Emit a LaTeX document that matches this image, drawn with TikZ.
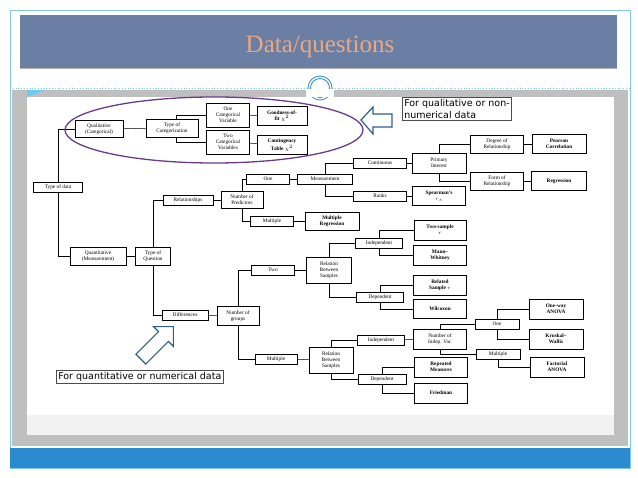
\documentclass[tikz,border=0pt]{standalone}
\usepackage{fontspec}
\setmainfont{Liberation Serif}
\newfontfamily\notefont{DejaVu Sans}
\usetikzlibrary{arrows.meta}
\definecolor{titlebg}{HTML}{6A7FA3}
\definecolor{titlefg}{HTML}{EBA882}
\definecolor{framec}{HTML}{7FC8E8}
\definecolor{bandc}{HTML}{2A8BD0}
\definecolor{ellc}{HTML}{6A3A8E}
\definecolor{arrc}{HTML}{2E5F8A}
\tikzset{
 bx/.style={draw, fill=white, line width=0.5pt, inner sep=0.3pt, align=center,
   font=\fontsize{5.3}{6.2}\selectfont, minimum height=10pt},
 bb/.style={bx, font=\fontsize{5.3}{6.2}\selectfont\bfseries},
 note/.style={draw=black!70, fill=white, line width=0.6pt, align=left, inner sep=2pt,
   font=\notefont\fontsize{9.5}{11.5}\selectfont, anchor=north west},
 ln/.style={line width=0.5pt},
 hollow/.style={draw=arrc, fill=white, line width=1.2pt, line join=miter}
}
\begin{document}
\begin{tikzpicture}[x=1pt,y=-1pt]
\useasboundingbox (0,0) rectangle (638,478);
\fill[white] (0,0) rectangle (638,478);
% frame and decoration
\draw[framec, line width=0.6pt] (10,10) rectangle (630,468);
\fill[bandc] (10,448) rectangle (630,468);
\fill[black!25] (12,90) rectangle (628,446);
\fill[white] (27,97) rectangle (614,435);
\fill[black!5] (27,415) rectangle (614,435);
\fill[cyan!60] (27,90) -- (45,90) -- (27,97) -- cycle;
\fill[titlebg] (20,15) rectangle (617,68);
\draw[black!30] (20,68) -- (617,68);
\node[font=\fontsize{25}{27}\selectfont, text=titlefg] (title) at (320,47) {Data/questions};
\draw[framec, dotted, line width=0.8pt] (10,88) -- (630,88);
\fill[white] (320,88) circle (12);
\draw[bandc, line width=0.8pt] (320,88) circle (12);
\draw[bandc, line width=0.8pt] (320,88) circle (9.5);
\fill[white] (306,89) rectangle (334,97);
% nodes
\node[bx, minimum width=49pt] (td) at (58,187) {Type of data};
\node[bx, minimum width=48pt, minimum height=17pt] (qual) at (99,129) {Qualitative\\(Categorical)};
\node[bx, minimum width=52pt, minimum height=18pt] (toc) at (172,128) {Type of\\Categorization};
\node[bx, minimum width=43pt, minimum height=24pt] (ocv) at (228,115) {One\\Categorical\\Variable};
\node[bx, minimum width=43pt, minimum height=24pt] (tcv) at (228,142) {Two\\Categorical\\Variables};
\node[bb, minimum width=50pt, minimum height=19pt] (gof) at (282,116) {Goodness-of-\\fit $\chi^2$};
\node[bb, minimum width=50pt, minimum height=19pt] (ct) at (282,145) {Contingency\\Table $\chi^2$};
\node[bx, minimum width=56pt, minimum height=18pt] (quan) at (98,256) {Quantitative\\(Measurement)};
\node[bx, minimum width=35pt, minimum height=18pt] (toq) at (153,256) {Type of\\Question};
\node[bx, minimum width=50pt] (rel) at (188,200) {Relationships};
\node[bx, minimum width=42pt, minimum height=17pt] (nop) at (242,200) {Number of\\Predictors};
\node[bx, minimum width=43pt] (one1) at (268,179) {One};
\node[bx, minimum width=55pt] (meas) at (325,179) {Measurement};
\node[bx, minimum width=43pt] (mult1) at (272,221) {Multiple};
\node[bb, minimum width=54pt, minimum height=18pt] (mreg) at (332,221) {Multiple\\Regression};
\node[bx, minimum width=53pt] (cont) at (380,163) {Continuous};
\node[bx, minimum width=53pt] (ranks) at (380,196) {Ranks};
\node[bx, minimum width=54pt, minimum height=20pt] (pi) at (439,163) {Primary\\Interest};
\node[bb, minimum width=53pt, minimum height=19pt] (sp) at (439,196) {Spearman's\\$r_s$};
\node[bx, minimum width=53pt, minimum height=18pt] (dor) at (497,144) {Degree of\\Relationship};
\node[bx, minimum width=53pt, minimum height=18pt] (forr) at (497,181) {Form of\\Relationship};
\node[bb, minimum width=54pt, minimum height=19pt] (pc) at (559,144) {Pearson\\Correlation};
\node[bb, minimum width=55pt, minimum height=19pt] (reg) at (559,181) {Regression};
\node[bx, minimum width=46pt] (diff) at (185,315) {Differences};
\node[bx, minimum width=42pt, minimum height=19pt] (nog) at (238,316) {Number of\\groups};
\node[bx, minimum width=43pt] (two) at (273,270) {Two};
\node[bx, minimum width=42pt] (mult2) at (276,359) {Multiple};
\node[bx, minimum width=45pt, minimum height=26pt] (rbs1) at (329,270) {Relation\\Between\\Samples};
\node[bx, minimum width=47pt] (ind1) at (379,243) {Independent};
\node[bx, minimum width=47pt] (dep1) at (380,297) {Dependent};
\node[bb, minimum width=52pt, minimum height=20pt] (tsr) at (440,230) {Two-sample\\$r$};
\node[bb, minimum width=53pt, minimum height=20pt] (mw) at (440,255) {Mann--\\Whitney};
\node[bb, minimum width=53pt, minimum height=20pt] (rsr) at (440,285) {Related\\Sample $r$};
\node[bb, minimum width=53pt, minimum height=19pt] (wil) at (440,309) {Wilcoxon};
\node[bx, minimum width=44pt, minimum height=26pt] (rbs2) at (331,360) {Relation\\Between\\Samples};
\node[bx, minimum width=47pt] (ind2) at (381,340) {Independent};
\node[bx, minimum width=48pt] (dep2) at (382,379) {Dependent};
\node[bx, minimum width=53pt, minimum height=20pt] (niv) at (440,339) {Number of\\Indep. Var.};
\node[bb, minimum width=53pt, minimum height=20pt] (rm) at (441,367) {Repeated\\Measures};
\node[bb, minimum width=53pt, minimum height=20pt] (fr) at (441,393) {Friedman};
\node[bx, minimum width=44pt] (one2) at (497,324) {One};
\node[bx, minimum width=44pt] (mult3) at (498,354) {Multiple};
\node[bb, minimum width=54pt, minimum height=20pt] (owa) at (556,309) {One-way\\ANOVA};
\node[bb, minimum width=54pt, minimum height=20pt] (kw) at (556,339) {Kruskal--\\Wallis};
\node[bb, minimum width=54pt, minimum height=20pt] (fa) at (557,367) {Factorial\\ANOVA};
% connectors
\begin{scope}[ln]
\draw (td.north) |- (qual.west); \draw (td.south) |- (quan.west);
\draw (qual) -- (toc);
\draw ([xshift=4pt]toc.north) |- (ocv.west); \draw ([xshift=4pt]toc.south) |- (tcv.west);
\draw (ocv) -- (gof); \draw (tcv) -- (ct);
\draw (quan) -- (toq);
\draw (toq.north) |- (rel.west); \draw (toq.south) |- (diff.west);
\draw (rel) -- (nop);
\draw (nop.north) |- (one1.west); \draw (nop.south) |- (mult1.west);
\draw (one1) -- (meas); \draw (mult1) -- (mreg);
\draw (meas.north) |- (cont.west); \draw (meas.south) |- (ranks.west);
\draw (cont) -- (pi); \draw (ranks) -- (sp);
\draw (pi.north) |- (dor.west); \draw (pi.south) |- (forr.west);
\draw (dor) -- (pc); \draw (forr) -- (reg);
\draw (diff) -- (nog);
\draw (nog.north) |- (two.west); \draw (nog.south) |- (mult2.west);
\draw (two) -- (rbs1); \draw (mult2) -- (rbs2);
\draw (rbs1.north) |- (ind1.west); \draw (rbs1.south) |- (dep1.west);
\draw (ind1.north) |- (tsr.west); \draw (ind1.south) |- (mw.west);
\draw (dep1.north) |- (rsr.west); \draw (dep1.south) |- (wil.west);
\draw (rbs2.north) |- (ind2.west); \draw (rbs2.south) |- (dep2.west);
\draw (ind2) -- (niv);
\draw (dep2.north) |- (rm.west); \draw (dep2.south) |- (fr.west);
\draw (niv.north) |- (one2.west); \draw (niv.south) |- (mult3.west);
\draw (one2.north) |- (owa.west); \draw (one2.south) |- (kw.west);
\draw (mult3.south) |- (fa.west);
\end{scope}
% annotations
\draw[ellc, line width=1.3pt] (214,130) ellipse (149 and 33);
\node[note] (n1) at (402,97) {For qualitative or non-\\numerical data};
\node[note] (n2) at (56,370) {For quantitative or numerical data};
\draw[hollow] (361,120) -- (373,107) -- (373,114) -- (392,114) -- (392,127) -- (373,127) -- (373,134) -- cycle;
\begin{scope}[shift={(155,345)}, rotate=45]
\draw[hollow] (26,0) -- (12,-14) -- (12,-7) -- (-20,-7) -- (-20,7) -- (12,7) -- (12,14) -- cycle;
\end{scope}
\end{tikzpicture}
\end{document}
